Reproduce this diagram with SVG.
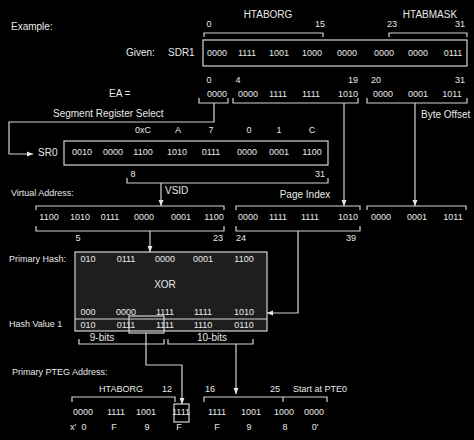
<svg xmlns="http://www.w3.org/2000/svg" width="474" height="440" viewBox="0 0 474 440">
<defs>
<style>
text{font-family:"Liberation Sans",Arial,sans-serif;fill:#e8e8e8;}
.b{font-size:9px;text-anchor:middle;}
.l{font-size:10px;}
.s{font-size:9px;}
.c{text-anchor:middle;}
.ln{fill:none;stroke:#d4d4d4;stroke-width:1.2;}
.bx{fill:#000;stroke:#d4d4d4;stroke-width:1.2;}
.hb{fill:#1e1e1e;stroke:#d4d4d4;stroke-width:1.2;}
</style>
<marker id="ah" viewBox="0 0 6 6" refX="6" refY="3" markerWidth="6" markerHeight="6" orient="auto" markerUnits="userSpaceOnUse"><path d="M0,0.5 L6,3 L0,5.5 z" fill="#e8e8e8"/></marker>
</defs>
<rect width="474" height="440" fill="#000"/>

<g id="title"><text class="l" x="11" y="30">Example:</text></g>

<g id="sdr1">
<text class="l c" x="268" y="18">HTABORG</text>
<text class="l c" x="430" y="17.5">HTABMASK</text>
<text class="b" x="209" y="26.5">0</text><text class="b" x="320" y="26.5">15</text>
<text class="b" x="392" y="26.5">23</text><text class="b" x="460" y="26.5">31</text>
<polyline class="ln" points="204,37 204,33 323,33 323,37"/>
<polyline class="ln" points="389,37 389,33 467,33 467,37"/>
<text class="l" x="126" y="56">Given:</text><text class="l" x="168" y="56">SDR1</text>
<rect class="bx" x="203" y="40" width="264" height="26"/>
<text class="b" x="217" y="56">0000</text><text class="b" x="247" y="56">1111</text><text class="b" x="279" y="56">1001</text><text class="b" x="312" y="56">1000</text>
<text class="b" x="347" y="56">0000</text><text class="b" x="384" y="56">0000</text><text class="b" x="418" y="56">0000</text><text class="b" x="453" y="56">0111</text>
</g>

<g id="ea">
<text class="b" x="209" y="83">0</text><text class="b" x="238" y="83">4</text><text class="b" x="353" y="83">19</text>
<text class="b" x="376" y="83">20</text><text class="b" x="460" y="83">31</text>
<text class="l" x="109" y="97">EA =</text>
<text class="b" x="217" y="97">0000</text><text class="b" x="248" y="97">0000</text><text class="b" x="278" y="97">1111</text><text class="b" x="311" y="97">1111</text><text class="b" x="348" y="97">1010</text>
<text class="b" x="383" y="97">0000</text><text class="b" x="418" y="97">0001</text><text class="b" x="452" y="97">1011</text>
<polyline class="ln" points="199,98 199,103 228,103 228,98"/>
<polyline class="ln" points="233,98 233,103 358,103 358,98"/>
<polyline class="ln" points="367,98 367,103 467,103 467,98"/>
<text class="l" x="53" y="117">Segment Register Select</text>
<text class="l" x="421" y="118">Byte Offset</text>
</g>

<g id="sr0">
<text class="b" x="143" y="133">0xC</text><text class="b" x="178" y="133">A</text><text class="b" x="211" y="133">7</text>
<text class="b" x="249" y="133">0</text><text class="b" x="279" y="133">1</text><text class="b" x="312" y="133">C</text>
<text class="l" x="38" y="156">SR0</text>
<rect class="bx" x="64" y="141" width="264" height="24"/>
<text class="b" x="82" y="155">0010</text><text class="b" x="113" y="155">0000</text><text class="b" x="143" y="155">1100</text><text class="b" x="177" y="155">1010</text>
<text class="b" x="211" y="155">0111</text><text class="b" x="247" y="155">0000</text><text class="b" x="279" y="155">0001</text><text class="b" x="312" y="155">1100</text>
<text class="b" x="133" y="177">8</text><text class="b" x="320" y="177">31</text>
<polyline class="ln" points="127,178 127,183 328,183 328,178"/>
<text class="l" x="165" y="194">VSID</text>
</g>

<g id="va">
<text class="s" x="11" y="196">Virtual Address:</text>
<text class="l c" x="305" y="198">Page Index</text>
<polyline class="ln" points="36,210 36,206 224,206 224,210"/>
<polyline class="ln" points="236,210 236,206 360,206 360,210"/>
<polyline class="ln" points="367,210 367,206 466,206 466,210"/>
<text class="b" x="49" y="220">1100</text><text class="b" x="80" y="220">1010</text><text class="b" x="110" y="220">0111</text>
<text class="b" x="144" y="220">0000</text><text class="b" x="181" y="220">0001</text><text class="b" x="214" y="220">1100</text>
<text class="b" x="248" y="220">0000</text><text class="b" x="278" y="220">1111</text><text class="b" x="310" y="220">1111</text><text class="b" x="348" y="220">1010</text>
<text class="b" x="381" y="220">0000</text><text class="b" x="417" y="220">0001</text><text class="b" x="453" y="220">1011</text>
<polyline class="ln" points="36,226 36,231 224,231 224,226"/>
<polyline class="ln" points="236,226 236,231 360,231 360,226"/>
<text class="b" x="78" y="241">5</text><text class="b" x="218" y="241">23</text>
<text class="b" x="241" y="241">24</text><text class="b" x="351" y="241">39</text>
</g>

<g id="hash">
<text class="s" x="9" y="262">Primary Hash:</text>
<rect class="hb" x="75" y="252" width="192" height="79"/>
<line class="ln" x1="75" y1="319" x2="267" y2="319"/>
<text class="b" x="88" y="262">010</text><text class="b" x="126" y="262">0111</text><text class="b" x="165" y="262">0000</text><text class="b" x="203" y="262">0001</text><text class="b" x="244" y="262">1100</text>
<text class="l c" x="165" y="288">XOR</text>
<text class="b" x="88" y="315">000</text><text class="b" x="126" y="315">0000</text><text class="b" x="165" y="315">1111</text><text class="b" x="203" y="315">1111</text><text class="b" x="244" y="315">1010</text>
<text class="s" x="9" y="327">Hash Value 1</text>
<text class="b" x="88" y="328">010</text><text class="b" x="126" y="328">0111</text><text class="b" x="165" y="328">1111</text><text class="b" x="203" y="328">1110</text><text class="b" x="244" y="328">0110</text>
<rect class="ln" x="129" y="316" width="35" height="17"/>
<polyline class="ln" points="79,339 79,344 164,344 164,339"/>
<polyline class="ln" points="168,339 168,344 253,344 253,339"/>
<text class="l c" x="102" y="341">9-bits</text>
<text class="l c" x="212" y="341">10-bits</text>
</g>

<g id="pteg">
<text class="s" x="12" y="375">Primary PTEG Address:</text>
<text class="s c" x="121" y="392">HTABORG</text>
<text class="b" x="167" y="392">12</text><text class="b" x="210" y="392">16</text><text class="b" x="275" y="392">25</text>
<text class="s" x="293" y="392">Start at PTE0</text>
<polyline class="ln" points="72,402 72,397 175,397 175,402"/>
<polyline class="ln" points="204,402 204,397 327,397 327,402"/>
<line class="ln" x1="283" y1="397" x2="283" y2="402"/>
<rect class="ln" x="174" y="404" width="15" height="18"/>
<text class="b" x="83" y="415">0000</text><text class="b" x="116" y="415">1111</text><text class="b" x="146" y="415">1001</text><text class="b" x="181" y="415">1111</text>
<text class="b" x="217" y="415">1111</text><text class="b" x="251" y="415">1001</text><text class="b" x="284" y="415">1000</text><text class="b" x="314" y="415">0000</text>
<text class="b" x="73" y="430">x'</text><text class="b" x="84" y="430">0</text><text class="b" x="114" y="430">F</text><text class="b" x="147" y="430">9</text><text class="b" x="179" y="430">F</text>
<text class="b" x="217" y="430">F</text><text class="b" x="249" y="430">9</text><text class="b" x="285" y="430">8</text><text class="b" x="315" y="430">0'</text>
</g>

<g id="connectors">
<polyline class="ln" points="214,103 214,122 9,122 9,154 33,154" marker-end="url(#ah)"/>
<line class="ln" x1="344" y1="103" x2="344" y2="206" marker-end="url(#ah)"/>
<line class="ln" x1="415" y1="103" x2="415" y2="206" marker-end="url(#ah)"/>
<line class="ln" x1="161" y1="183" x2="161" y2="206" marker-end="url(#ah)"/>
<line class="ln" x1="150" y1="231" x2="150" y2="252" marker-end="url(#ah)"/>
<polyline class="ln" points="298,231 298,313 267,313" marker-end="url(#ah)"/>
<polyline class="ln" points="146,333 146,365 182,365 182,404" marker-end="url(#ah)"/>
<line class="ln" x1="236" y1="344" x2="236" y2="394" marker-end="url(#ah)"/>
</g>
</svg>
